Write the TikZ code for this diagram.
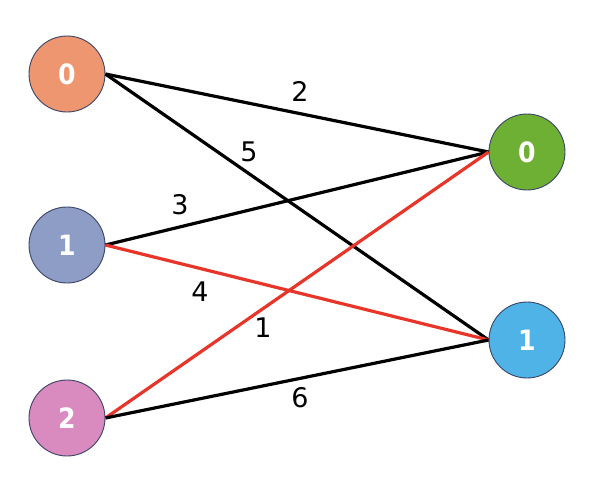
\documentclass[tikz,border=0pt]{standalone}
\usepackage{fontspec}
\setmainfont{DejaVu Sans}
\newfontfamily\nodefont{DejaVu Sans Condensed Bold}
\definecolor{cOrange}{HTML}{EE9670}
\definecolor{cLav}{HTML}{8E9DC6}
\definecolor{cPink}{HTML}{D98BC0}
\definecolor{cGreen}{HTML}{6EB033}
\definecolor{cBlue}{HTML}{4FB3E7}
\definecolor{cRed}{HTML}{E8352A}
\definecolor{cRim}{HTML}{3A4466}
\begin{document}
\begin{tikzpicture}[x=1pt,y=-1pt,
  vtx/.style={circle,draw=cRim,line width=0.9pt,minimum size=76pt,inner sep=0pt,
    text=white,font=\nodefont\fontsize{28}{28}\selectfont},
  edge/.style={line width=3.2pt,black},
  redge/.style={line width=3.2pt,cRed},
  wlabel/.style={font=\fontsize{27}{27}\selectfont,inner sep=0pt}]
\useasboundingbox (0,0) rectangle (600,498);
\node[vtx,fill=cOrange] (L0) at (67,74) {0};
\node[vtx,fill=cLav] (L1) at (67,245) {1};
\node[vtx,fill=cPink] (L2) at (67,418) {2};
\node[vtx,fill=cGreen] (R0) at (527,152) {0};
\node[vtx,fill=cBlue] (R1) at (527,340) {1};
\draw[edge] (L0.east) -- (R0.west);
\draw[edge] (L0.east) -- (R1.west);
\draw[edge] (L1.east) -- (R0.west);
\draw[redge] (L1.east) -- (R1.west);
\draw[redge] (L2.east) -- (R0.west);
\draw[edge] (L2.east) -- (R1.west);
\node[wlabel] (w2) at (300,91) {2};
\node[wlabel] (w5) at (249,152) {5};
\node[wlabel] (w3) at (180,205) {3};
\node[wlabel] (w4) at (200,292) {4};
\node[wlabel] (w1) at (263,328) {1};
\node[wlabel] (w6) at (300,398) {6};
\end{tikzpicture}
\end{document}
